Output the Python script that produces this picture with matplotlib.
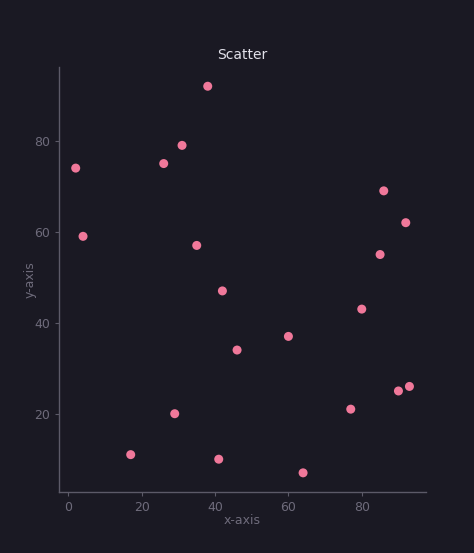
import numpy as np
import matplotlib.pyplot as plt

# datos
x = [2, 4, 17, 26, 29, 31, 35, 38, 41, 42, 46, 60, 64, 77, 80, 85, 86, 90, 92, 93]
y = [74, 59, 11, 75, 20, 79, 57, 92, 10, 47, 34, 37, 7, 21, 43, 55, 69, 25, 62, 26]

bg = "#1a1923"
gris = "#5c5a68"
texto = "#6e6b7b"

fig = plt.figure(figsize=(4.74, 5.53), dpi=100, facecolor=bg)
ax = fig.add_axes([0.1245, 0.110, 0.7745, 0.769], facecolor=bg)

ax.scatter(x, y, s=42, color="#f0789a", edgecolors="none", zorder=3)

ax.set_title("Scatter", color="#e2e1ea", fontsize=10, pad=6)
ax.set_xlabel("x-axis", color=texto, fontsize=9, labelpad=-0.5)
ax.set_ylabel("y-axis", color=texto, fontsize=9, labelpad=-2)

ax.set_xticks([0, 20, 40, 60, 80])
ax.set_yticks([20, 40, 60, 80])
ax.tick_params(colors=gris, labelcolor=texto, labelsize=9, length=3, width=0.8)

for lado in ["top", "right"]:
    ax.spines[lado].set_visible(False)
for lado in ["left", "bottom"]:
    ax.spines[lado].set_color(gris)
    ax.spines[lado].set_linewidth(1)

fig.savefig("out.png", dpi=100, facecolor=bg)
